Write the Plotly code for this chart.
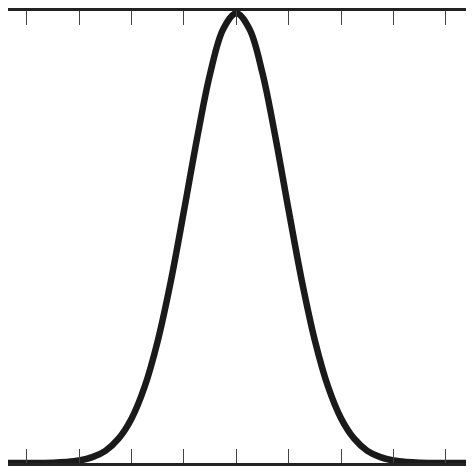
import plotly.graph_objects as go

# values (symmetric bell curve)
x_vals = [-4.5, -4.0, -3.5, -3.25, -3.0, -2.75, -2.5, -2.25, -2.0, -1.75, -1.5, -1.25, -1.0,
          -0.75, -0.5, -0.25, 0.0, 0.25, 0.5, 0.75, 1.0, 1.25, 1.5, 1.75, 2.0, 2.25,
          2.5, 2.75, 3.0, 3.25, 3.5, 4.0, 4.7]
y_vals = [0.0, 0.0001, 0.0008, 0.0022, 0.0055, 0.013, 0.027, 0.054, 0.099, 0.170, 0.272, 0.405, 0.561,
          0.722, 0.866, 0.965, 1.0, 0.965, 0.866, 0.722, 0.561, 0.405, 0.272, 0.170, 0.099, 0.054,
          0.027, 0.013, 0.0055, 0.0022, 0.0008, 0.0001, 0.0]
tick_vals = [-4, -3, -2, -1, 0, 1, 2, 3, 4]

fig = go.Figure(go.Scatter(
    x=x_vals, y=y_vals, mode="lines",
    line=dict(color="#1a1a1a", width=6.5, shape="spline"),
))

fig.update_layout(
    width=474, height=474,
    margin=dict(l=0, r=0, t=0, b=19),
    plot_bgcolor="white", paper_bgcolor="white",
    showlegend=False,
)
fig.update_xaxes(
    range=[-4.36, 4.69], tickvals=tick_vals, showticklabels=False,
    ticks="inside", ticklen=14, tickwidth=1.3, tickcolor="#444",
    showline=True, linecolor="#222", linewidth=2.5, mirror="ticks",
    showgrid=False, zeroline=False,
)
fig.update_yaxes(
    range=[0, 1.005], showticklabels=False, showgrid=False, zeroline=False,
    showline=False,
)

fig.write_html("out.html")
